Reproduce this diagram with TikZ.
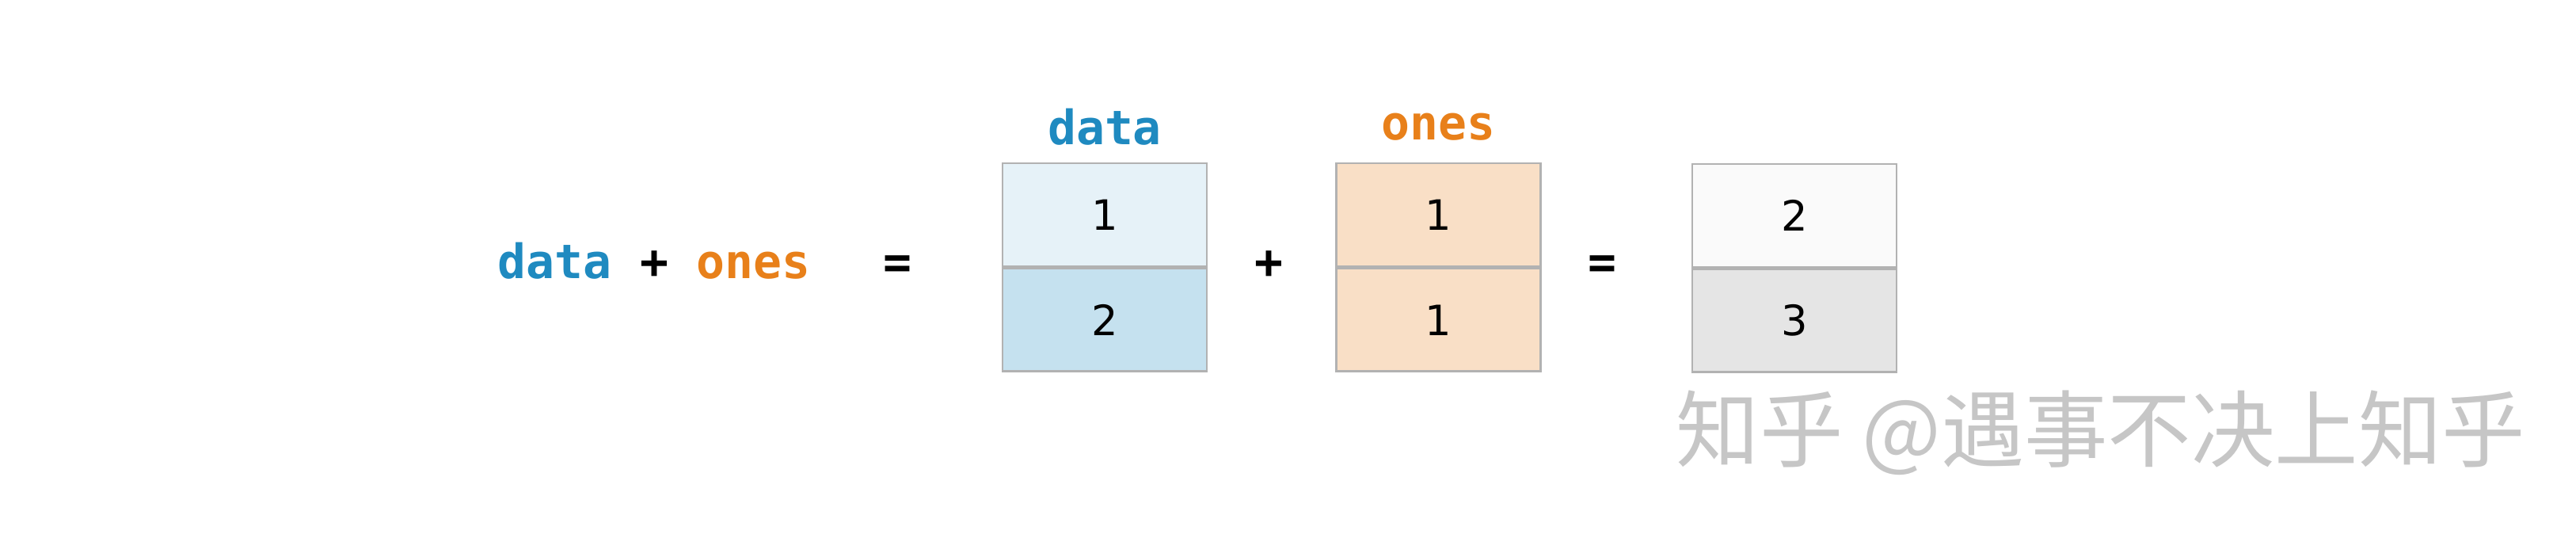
\documentclass[tikz,border=0pt]{standalone}
\usepackage{fontspec}
\setmainfont{DejaVu Sans}
\setmonofont{DejaVu Sans Mono}
\newfontfamily\cjk{Noto Sans CJK SC}
\usetikzlibrary{positioning}
\definecolor{datablue}{HTML}{1F8AC0}
\definecolor{onesorange}{HTML}{E8801A}
\tikzset{
  cell/.style={draw=gray!60,line width=0.8pt,minimum width=2.58cm,minimum height=1.30cm,inner sep=0pt,font=\fontsize{15pt}{18pt}\selectfont},
  lbl/.style={font=\fontsize{17pt}{20pt}\selectfont\ttfamily\bfseries},
  op/.style={font=\fontsize{17pt}{20pt}\selectfont\ttfamily\bfseries}
}
\begin{document}
\begin{tikzpicture}
  \useasboundingbox (0,0) rectangle (32.53,6.79);
  \node[cell,fill=datablue!11] (d1) at (13.95,4.08) {1};
  \node[cell,fill=datablue!26,below=0pt of d1] (d2) {2};
  \node[cell,fill=onesorange!25] (o1) at (18.165,4.08) {1};
  \node[cell,fill=onesorange!25,below=0pt of o1] (o2) {1};
  \node[cell,fill=gray!4] (r1) at (22.66,4.07) {2};
  \node[cell,fill=gray!20,below=0pt of r1] (r2) {3};
  \node[lbl,text=datablue] (dlab) at (13.95,5.19) {data};
  \node[lbl,text=onesorange] (olab) at (18.165,5.19) {ones};
  % expression on the left
  \node[lbl,anchor=base] (expr) at (8.26,3.27) {\textcolor{datablue}{data} + \textcolor{onesorange}{ones}};
  \node[op,anchor=base] (eq1) at (11.33,3.27) {=};
  \node[op,anchor=base] (plus) at (16.02,3.27) {+};
  \node[op,anchor=base] (eq2) at (20.23,3.27) {=};
  \node[text=gray!45,font=\fontsize{30pt}{36pt}\selectfont\cjk] (mark) at (26.53,1.33) {知乎 @遇事不决上知乎};
\end{tikzpicture}
\end{document}
